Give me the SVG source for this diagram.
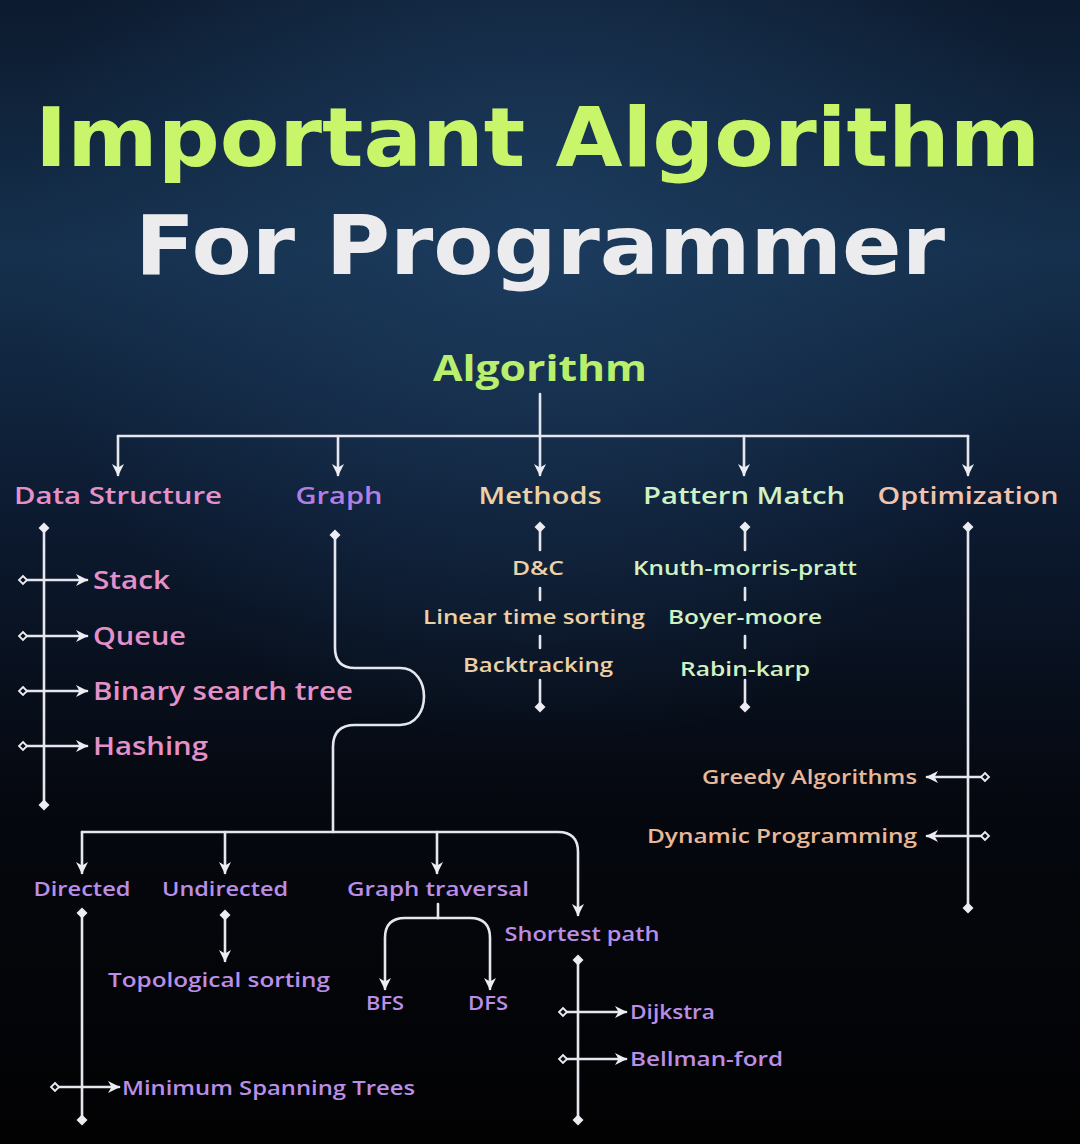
<svg xmlns="http://www.w3.org/2000/svg" width="1080" height="1144" viewBox="0 0 1080 1144">
<defs>
<linearGradient id="bg" x1="0" y1="0" x2="0" y2="1">
<stop offset="0" stop-color="#0c1a2e"/>
<stop offset="0.22" stop-color="#15304d"/>
<stop offset="0.45" stop-color="#0c1a30"/>
<stop offset="0.7" stop-color="#05080f"/>
<stop offset="1" stop-color="#020203"/>
</linearGradient>
<radialGradient id="glow" cx="540" cy="230" r="520" gradientUnits="userSpaceOnUse">
<stop offset="0" stop-color="#1f4064" stop-opacity="0.7"/>
<stop offset="1" stop-color="#1f4064" stop-opacity="0"/>
</radialGradient>
<marker id="arr" markerWidth="14" markerHeight="14" refX="11" refY="6" orient="auto" markerUnits="userSpaceOnUse">
<path d="M0,0 L12,6 L0,12 L3.5,6 Z" fill="#ececf2"/>
</marker>
<marker id="dia" markerWidth="14" markerHeight="14" refX="7" refY="7" orient="auto" markerUnits="userSpaceOnUse">
<path d="M7,1.5 L12.5,7 L7,12.5 L1.5,7 Z" fill="#ececf2"/>
</marker>
<marker id="ring" markerWidth="14" markerHeight="14" refX="7" refY="7" orient="auto" markerUnits="userSpaceOnUse">
<path d="M7,3 L11,7 L7,11 L3,7 Z" fill="#0a0f1a" stroke="#ececf2" stroke-width="1.8"/>
</marker>
</defs>
<style>
.ln{fill:none;stroke:#e6e6ee;stroke-width:2.6;stroke-linecap:round}
.ar{marker-end:url(#arr)}
.dd{marker-start:url(#dia);marker-end:url(#dia)}
.ds{marker-start:url(#dia)}
.de{marker-end:url(#dia)}
.br{marker-start:url(#ring);marker-end:url(#arr)}
text{font-family:"Open Sans","Noto Sans","DejaVu Sans",sans-serif;font-weight:600}
.title{font-family:"DejaVu Sans","Liberation Sans",sans-serif;font-weight:bold;font-size:82px}
.hd{font-size:24px}
.md{font-size:25px}
.sm{font-size:20px}
.c{text-anchor:middle}
.r{text-anchor:end}
.pink{fill:#e490c9}
.purple{fill:#b27ee6}
.lav{fill:#bb8ee6}
.peach{fill:#ecd0a6}
.mint{fill:#cff1c3}
.salmon{fill:#f0c3ad}
.tan{fill:#e8b998}
</style>
<rect width="1080" height="1144" fill="url(#bg)"/>
<rect width="1080" height="1144" fill="url(#glow)"/>

<g id="title">
<text class="title" x="35" y="166" textLength="1005" lengthAdjust="spacingAndGlyphs" fill="#c8f56a">Important Algorithm</text>
<text class="title" x="135" y="274" textLength="810" lengthAdjust="spacingAndGlyphs" fill="#ececee">For Programmer</text>
</g>

<g id="connectors">
<path class="ln ar" d="M540,394 V475"/>
<path class="ln" d="M118,436 H968"/>
<path class="ln ar" d="M118,436 V475"/>
<path class="ln ar" d="M338,436 V475"/>
<path class="ln ar" d="M744,436 V475"/>
<path class="ln ar" d="M968,436 V475"/>

<path class="ln dd" d="M44,528 V805"/>
<path class="ln br" d="M23,580 H87"/>
<path class="ln br" d="M23,636 H87"/>
<path class="ln br" d="M23,691 H87"/>
<path class="ln br" d="M23,746 H87"/>

<path class="ln ds" d="M335,535 V648 Q335,668 355,668 H400 C432,668 432,725 400,725 H355 Q333,725 333,747 V832"/>

<path class="ln ds" d="M540,527 V550"/>
<path class="ln" d="M540,588 V600"/>
<path class="ln" d="M540,636 V648"/>
<path class="ln de" d="M540,680 V707"/>
<path class="ln ds" d="M745,527 V550"/>
<path class="ln" d="M745,588 V600"/>
<path class="ln" d="M745,636 V648"/>
<path class="ln de" d="M745,680 V707"/>

<path class="ln dd" d="M968,527 V908"/>
<path class="ln br" d="M985,777 H927"/>
<path class="ln br" d="M985,836 H927"/>

<path class="ln ar" d="M82,832 H558 Q578,832 578,852 V915"/>
<path class="ln ar" d="M82,832 V873"/>
<path class="ln ar" d="M225,832 V873"/>
<path class="ln ar" d="M437,832 V873"/>

<path class="ln dd" d="M82,913 V1120"/>
<path class="ln br" d="M55,1087 H119"/>
<path class="ln ds ar" d="M225,915 V961"/>
<path class="ln" d="M438,904 V918"/>
<path class="ln ar" d="M438,918 H405 Q385,918 385,938 V989"/>
<path class="ln ar" d="M438,918 H470 Q490,918 490,938 V989"/>
<path class="ln dd" d="M578,960 V1120"/>
<path class="ln br" d="M563,1012 H626"/>
<path class="ln br" d="M563,1059 H626"/>
</g>

<g id="algorithm">
<text x="540" y="381" class="c" font-size="36" style="font-weight:bold" fill="#b9ef6c" textLength="214" lengthAdjust="spacingAndGlyphs">Algorithm</text>
</g>

<g id="data-structure">
<text x="118" y="504" class="hd c pink" textLength="208" lengthAdjust="spacingAndGlyphs">Data Structure</text>
</g>
<g id="stack"><text x="93" y="589" class="md pink" textLength="77" lengthAdjust="spacingAndGlyphs">Stack</text></g>
<g id="queue"><text x="93" y="645" class="md pink" textLength="93" lengthAdjust="spacingAndGlyphs">Queue</text></g>
<g id="bst"><text x="93" y="700" class="md pink" textLength="260" lengthAdjust="spacingAndGlyphs">Binary search tree</text></g>
<g id="hashing"><text x="93" y="755" class="md pink" textLength="115" lengthAdjust="spacingAndGlyphs">Hashing</text></g>

<g id="graph"><text x="339" y="504" class="hd c purple" textLength="87" lengthAdjust="spacingAndGlyphs">Graph</text></g>

<g id="methods"><text x="540" y="504" class="hd c peach" textLength="123" lengthAdjust="spacingAndGlyphs">Methods</text></g>
<g id="dc"><text x="538" y="575" class="sm c peach" textLength="52" lengthAdjust="spacingAndGlyphs">D&amp;C</text></g>
<g id="linear"><text x="534" y="624" class="sm c peach" textLength="222" lengthAdjust="spacingAndGlyphs">Linear time sorting</text></g>
<g id="backtracking"><text x="538" y="672" class="sm c peach" textLength="150" lengthAdjust="spacingAndGlyphs">Backtracking</text></g>

<g id="pattern"><text x="744" y="504" class="hd c mint" textLength="202" lengthAdjust="spacingAndGlyphs">Pattern Match</text></g>
<g id="kmp"><text x="745" y="575" class="sm c mint" textLength="224" lengthAdjust="spacingAndGlyphs">Knuth-morris-pratt</text></g>
<g id="boyer"><text x="745" y="624" class="sm c mint" textLength="154" lengthAdjust="spacingAndGlyphs">Boyer-moore</text></g>
<g id="rabin"><text x="745" y="676" class="sm c mint" textLength="130" lengthAdjust="spacingAndGlyphs">Rabin-karp</text></g>

<g id="optimization"><text x="968" y="504" class="hd c salmon" textLength="181" lengthAdjust="spacingAndGlyphs">Optimization</text></g>
<g id="greedy"><text x="917" y="784" class="sm r tan" textLength="215" lengthAdjust="spacingAndGlyphs">Greedy Algorithms</text></g>
<g id="dp"><text x="917" y="843" class="sm r tan" textLength="270" lengthAdjust="spacingAndGlyphs">Dynamic Programming</text></g>

<g id="directed"><text x="82" y="896" class="sm c lav" textLength="97" lengthAdjust="spacingAndGlyphs">Directed</text></g>
<g id="undirected"><text x="225" y="896" class="sm c lav" textLength="126" lengthAdjust="spacingAndGlyphs">Undirected</text></g>
<g id="traversal"><text x="438" y="896" class="sm c lav" textLength="182" lengthAdjust="spacingAndGlyphs">Graph traversal</text></g>
<g id="shortest"><text x="582" y="941" class="sm c lav" textLength="155" lengthAdjust="spacingAndGlyphs">Shortest path</text></g>
<g id="topo"><text x="219" y="987" class="sm c lav" textLength="222" lengthAdjust="spacingAndGlyphs">Topological sorting</text></g>
<g id="bfs"><text x="385" y="1010" class="sm c lav" textLength="38" lengthAdjust="spacingAndGlyphs">BFS</text></g>
<g id="dfs"><text x="488" y="1010" class="sm c lav" textLength="40" lengthAdjust="spacingAndGlyphs">DFS</text></g>
<g id="dijkstra"><text x="630" y="1019" class="sm lav" textLength="85" lengthAdjust="spacingAndGlyphs">Dijkstra</text></g>
<g id="bellman"><text x="630" y="1066" class="sm lav" textLength="153" lengthAdjust="spacingAndGlyphs">Bellman-ford</text></g>
<g id="mst"><text x="122" y="1095" class="sm lav" textLength="293" lengthAdjust="spacingAndGlyphs">Minimum Spanning Trees</text></g>
</svg>
